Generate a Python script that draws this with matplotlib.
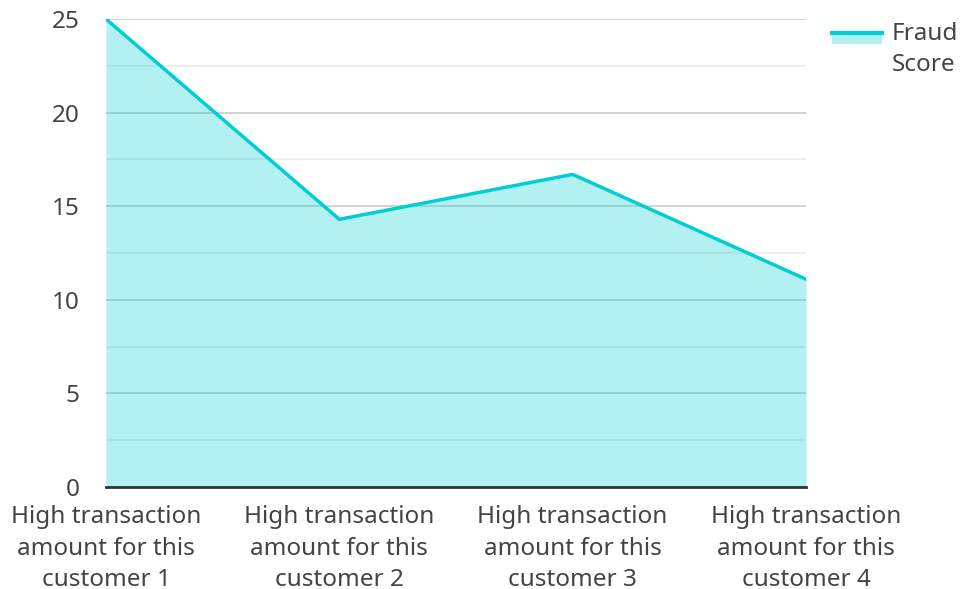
import matplotlib.pyplot as plt
from matplotlib.patches import Rectangle
from matplotlib.lines import Line2D
from matplotlib.legend_handler import HandlerBase

categories = [
    "High transaction\namount for this\ncustomer 1",
    "High transaction\namount for this\ncustomer 2",
    "High transaction\namount for this\ncustomer 3",
    "High transaction\namount for this\ncustomer 4",
]
fraud_score = [25, 14.3, 16.7, 11.1]
y_ticks = [0, 5, 10, 15, 20, 25]
y_minor = [2.5, 7.5, 12.5, 17.5, 22.5]

plt.rcParams["font.family"] = ["Noto Sans", "DejaVu Sans"]

line_color = "#00CED1"
text_color = "#444444"
fs = 17.5


class LineOverFill(HandlerBase):
    # legend key: thick line with the light fill just below it, level with first text line
    def create_artists(self, legend, orig_handle, xdescent, ydescent,
                       width, height, fontsize, trans):
        top = height + 0.34 * fontsize
        rect = Rectangle((-xdescent, top - 7.5), width, 7.5, facecolor=line_color,
                         alpha=0.3, linewidth=0, transform=trans)
        line = Line2D([-xdescent, -xdescent + width], [top, top], color=line_color,
                      linewidth=3, transform=trans)
        return [rect, line]


fig = plt.figure(figsize=(9.61, 5.89), dpi=100)
ax = fig.add_axes([0.1103, 0.1732, 0.7284, 0.7945])

x = list(range(len(categories)))
ax.fill_between(x, fraud_score, 0, color=line_color, alpha=0.3, linewidth=0, zorder=2)
ax.plot(x, fraud_score, color=line_color, linewidth=2.5, zorder=3)

ax.set_xlim(0, len(categories) - 1)
ax.set_ylim(0, 25)
ax.set_yticks(y_ticks)
ax.set_yticks(y_minor, minor=True)
ax.set_xticks(x)
ax.set_xticklabels(categories)

ax.grid(True, axis="y", which="major", color="#cccccc", linewidth=1.2, zorder=1)
ax.grid(True, axis="y", which="minor", color="#ebebeb", linewidth=1.2, zorder=1)
ax.set_axisbelow(True)

for side in ["top", "right", "left"]:
    ax.spines[side].set_visible(False)
ax.spines["bottom"].set_color("#333333")
ax.spines["bottom"].set_linewidth(2)
ax.spines["bottom"].set_zorder(4)

ax.tick_params(axis="both", which="both", length=0, labelsize=fs, colors=text_color)
ax.tick_params(axis="y", pad=19)
ax.tick_params(axis="x", pad=13)
for lbl in ax.get_xticklabels():
    lbl.set_linespacing(1.42)

leg = fig.legend([object()], ["Fraud\nScore"], handler_map={object: LineOverFill()},
                 loc="upper left", bbox_to_anchor=(0.8655, 0.963),
                 frameon=False, fontsize=fs, labelcolor=text_color, handlelength=2.06,
                 handletextpad=0.41, borderaxespad=0, borderpad=0)
for t in leg.get_texts():
    t.set_linespacing(1.42)

plt.savefig("out.png", dpi=100)
